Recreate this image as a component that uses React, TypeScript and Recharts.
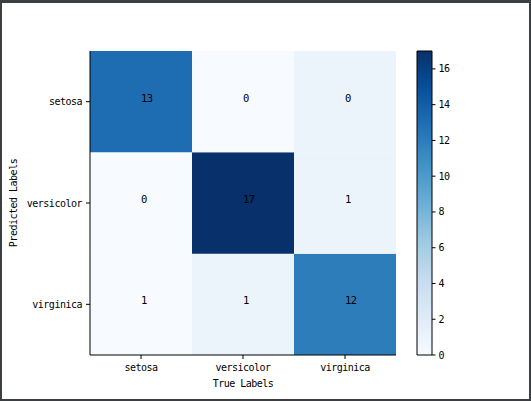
import React from 'react';
import { BarChart, Bar, XAxis, YAxis, Cell, LabelList } from 'recharts';

const trueLabels = ['setosa', 'versicolor', 'virginica'];
const predLabels = ['setosa', 'versicolor', 'virginica'];
// annotated numbers (rows = predicted label, columns = true label)
const setosaRow = [13, 0, 0];
const versicolorRow = [0, 17, 1];
const virginicaRow = [1, 1, 12];
// colour values shown in the heatmap cells (as drawn in the picture)
const setosaColorRow = [13, 0, 1];
const versicolorColorRow = [0, 17, 1];
const virginicaColorRow = [0, 1, 12];
const colorbarTicks = [0, 2, 4, 6, 8, 10, 12, 14, 16];
const vmax = 17;

const BLUES = [
  [247, 251, 255],
  [222, 235, 247],
  [198, 219, 239],
  [158, 202, 225],
  [107, 174, 214],
  [66, 146, 198],
  [33, 113, 181],
  [8, 81, 156],
  [8, 48, 107],
];

function blues(v: number): string {
  const t = Math.max(0, Math.min(1, v / vmax)) * (BLUES.length - 1);
  const i = Math.min(BLUES.length - 2, Math.floor(t));
  const f = t - i;
  const c = BLUES[i].map((a, k) => Math.round(a + (BLUES[i + 1][k] - a) * f));
  return `rgb(${c[0]},${c[1]},${c[2]})`;
}

const colorRows: Record<string, number[]> = {
  setosa: setosaColorRow,
  versicolor: versicolorColorRow,
  virginica: virginicaColorRow,
};

const data = trueLabels.map((t, j) => ({
  trueLabel: t,
  virginica: 1,
  versicolor: 1,
  setosa: 1,
  virginicaVal: virginicaRow[j],
  versicolorVal: versicolorRow[j],
  setosaVal: setosaRow[j],
}));

const MONO = '"DejaVu Sans Mono", "Liberation Mono", monospace';
const tickStyle = { fill: '#000', fontFamily: MONO, fontSize: 10, letterSpacing: '-0.5px' };

const CellText = (props: any) => {
  const vb = props.viewBox ?? props;
  const x = Number(vb.x) + Number(vb.width) / 2;
  const y = Number(vb.y) + Number(vb.height) / 2;
  return (
    <text x={x} y={y} textAnchor="start" fill="#000" fontFamily={MONO} fontSize={10.5} letterSpacing="-0.6px">
      {props.value}
    </text>
  );
};

// stacked from bottom: virginica, versicolor, setosa
const stackOrder = ['virginica', 'versicolor', 'setosa'];
const yLabelFor = (v: number) => predLabels[2 - Math.floor(v)];

export default function App() {
  return (
    <div style={{ position: 'absolute', left: 0, top: 0, width: 531, height: 401, background: '#3c3f41' }}>
      <div style={{ position: 'absolute', left: 2, top: 3, width: 527, height: 396, background: '#fff' }} />
      <div style={{ position: 'absolute', left: 0, top: 0 }}>
        <BarChart
          width={531}
          height={401}
          data={data}
          margin={{ top: 51, right: 135, bottom: 16, left: 10 }}
          barCategoryGap={0}
          barGap={0}
        >
          <XAxis
            xAxisId="b"
            dataKey="trueLabel"
            height={30}
            interval={0}
            tickSize={4}
            tickMargin={5}
            axisLine={{ stroke: '#000' }}
            tickLine={{ stroke: '#000' }}
            tick={tickStyle}
            label={{
              value: 'True Labels',
              position: 'insideBottom',
              offset: -2,
              fill: '#000',
              fontFamily: MONO,
              fontSize: 10,
              letterSpacing: '-0.5px',
            }}
          />
          <XAxis
            xAxisId="t"
            dataKey="trueLabel"
            orientation="top"
            height={0}
            tick={false}
            tickLine={false}
            axisLine={{ stroke: '#000' }}
            label={{
              value: 'SVM Accuracy',
              position: 'top',
              offset: 6,
              fill: '#000',
              fontFamily: MONO,
              fontSize: 12,
              letterSpacing: '-0.4px',
            }}
          />
          <YAxis
            yAxisId="l"
            type="number"
            domain={[0, 3]}
            ticks={[0.5, 1.5, 2.5]}
            tickFormatter={yLabelFor}
            width={80}
            tickSize={4}
            tickMargin={4}
            axisLine={{ stroke: '#000' }}
            tickLine={{ stroke: '#000' }}
            tick={tickStyle}
            label={{
              value: 'Predicted Labels',
              angle: -90,
              position: 'insideLeft',
              offset: 3,
              fill: '#000',
              fontFamily: MONO,
              fontSize: 10,
              letterSpacing: '-0.5px',
              style: { textAnchor: 'middle' },
            }}
          />
          <YAxis
            yAxisId="r"
            orientation="right"
            type="number"
            domain={[0, 3]}
            width={0}
            tick={false}
            tickLine={false}
            axisLine={{ stroke: '#000' }}
          />
          {stackOrder.map((p) => (
            <Bar
              key={p}
              xAxisId="b"
              yAxisId="l"
              dataKey={p}
              stackId="s"
              isAnimationActive={false}
            >
              {data.map((d, j) => (
                <Cell key={j} fill={blues(colorRows[p][j])} />
              ))}
              <LabelList dataKey={`${p}Val`} content={CellText} />
            </Bar>
          ))}
        </BarChart>
      </div>
      <div style={{ position: 'absolute', left: 0, top: 0 }}>
        <BarChart
          width={531}
          height={401}
          data={[{ name: 'cb', v: vmax }]}
          margin={{ top: 51, right: 59, bottom: 46, left: 417 }}
          barCategoryGap={0}
        >
          <defs>
            <linearGradient id="bluesGrad" x1="0" y1="1" x2="0" y2="0">
              {BLUES.map((c, i) => (
                <stop key={i} offset={i / (BLUES.length - 1)} stopColor={`rgb(${c[0]},${c[1]},${c[2]})`} />
              ))}
            </linearGradient>
          </defs>
          <XAxis dataKey="name" hide />
          <YAxis
            orientation="right"
            type="number"
            domain={[0, vmax]}
            ticks={colorbarTicks}
            width={40}
            tickSize={3.5}
            tickMargin={3}
            axisLine={false}
            tickLine={{ stroke: '#000' }}
            tick={{ fill: '#000', fontFamily: MONO, fontSize: 10, letterSpacing: '-0.5px' }}
          />
          <Bar dataKey="v" fill="url(#bluesGrad)" stroke="#000" strokeWidth={1} isAnimationActive={false} />
        </BarChart>
      </div>
    </div>
  );
}
